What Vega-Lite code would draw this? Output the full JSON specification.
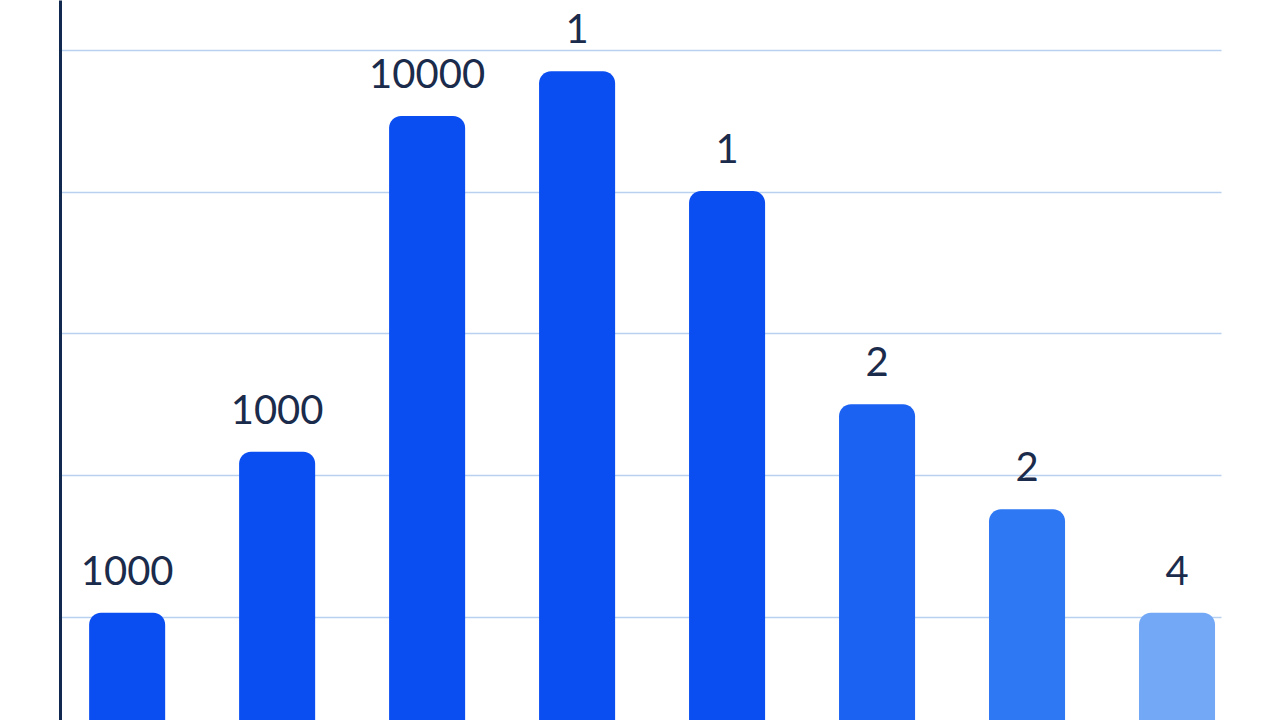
{
  "$schema": "https://vega.github.io/schema/vega-lite/v6.json",
  "width": 1161,
  "height": 720,
  "autosize": {"type": "none"},
  "padding": {"left": 60, "top": 0, "right": 59, "bottom": 0},
  "background": "white",
  "config": {
    "view": {"stroke": null},
    "font": "Lato"
  },
  "data": {
    "values": [
      {"bar": "A", "value": 20.6, "label": "1000"},
      {"bar": "B", "value": 43.3, "label": "1000"},
      {"bar": "C", "value": 90.7, "label": "10000"},
      {"bar": "D", "value": 97.0, "label": "1"},
      {"bar": "E", "value": 80.1, "label": "1"},
      {"bar": "F", "value": 50.0, "label": "2"},
      {"bar": "G", "value": 35.2, "label": "2"},
      {"bar": "H", "value": 20.6, "label": "4"}
    ]
  },
  "encoding": {
    "x": {
      "field": "bar",
      "type": "nominal",
      "sort": null,
      "scale": {"paddingInner": 0.493, "paddingOuter": 0.117, "align": 0.83},
      "axis": null
    },
    "y": {
      "field": "value",
      "type": "quantitative",
      "scale": {"domain": [5.47, 107.05], "nice": false, "zero": false},
      "axis": {
        "values": [20, 40, 60, 80, 100],
        "labels": false,
        "ticks": false,
        "title": null,
        "domain": true,
        "domainColor": "#12294f",
        "domainWidth": 3,
        "grid": true,
        "gridColor": "#b9d1ef",
        "gridWidth": 1.5
      }
    }
  },
  "layer": [
    {
      "mark": {
        "type": "bar",
        "clip": true,
        "cornerRadiusTopLeft": 12,
        "cornerRadiusTopRight": 12
      },
      "encoding": {
        "y2": {"datum": 0},
        "color": {
          "field": "bar",
          "type": "nominal",
          "scale": {
            "domain": ["A", "B", "C", "D", "E", "F", "G", "H"],
            "range": ["#0a4ef2", "#0a4ef2", "#0a4ef2", "#0a4ef2", "#0a4ef2", "#1c62f2", "#2f78f4", "#72a8f6"]
          },
          "legend": null
        }
      }
    },
    {
      "mark": {
        "type": "text",
        "baseline": "alphabetic",
        "align": "center",
        "dy": -28,
        "fontSize": 40,
        "color": "#1b2b4b"
      },
      "encoding": {
        "text": {"field": "label", "type": "nominal"}
      }
    }
  ]
}
